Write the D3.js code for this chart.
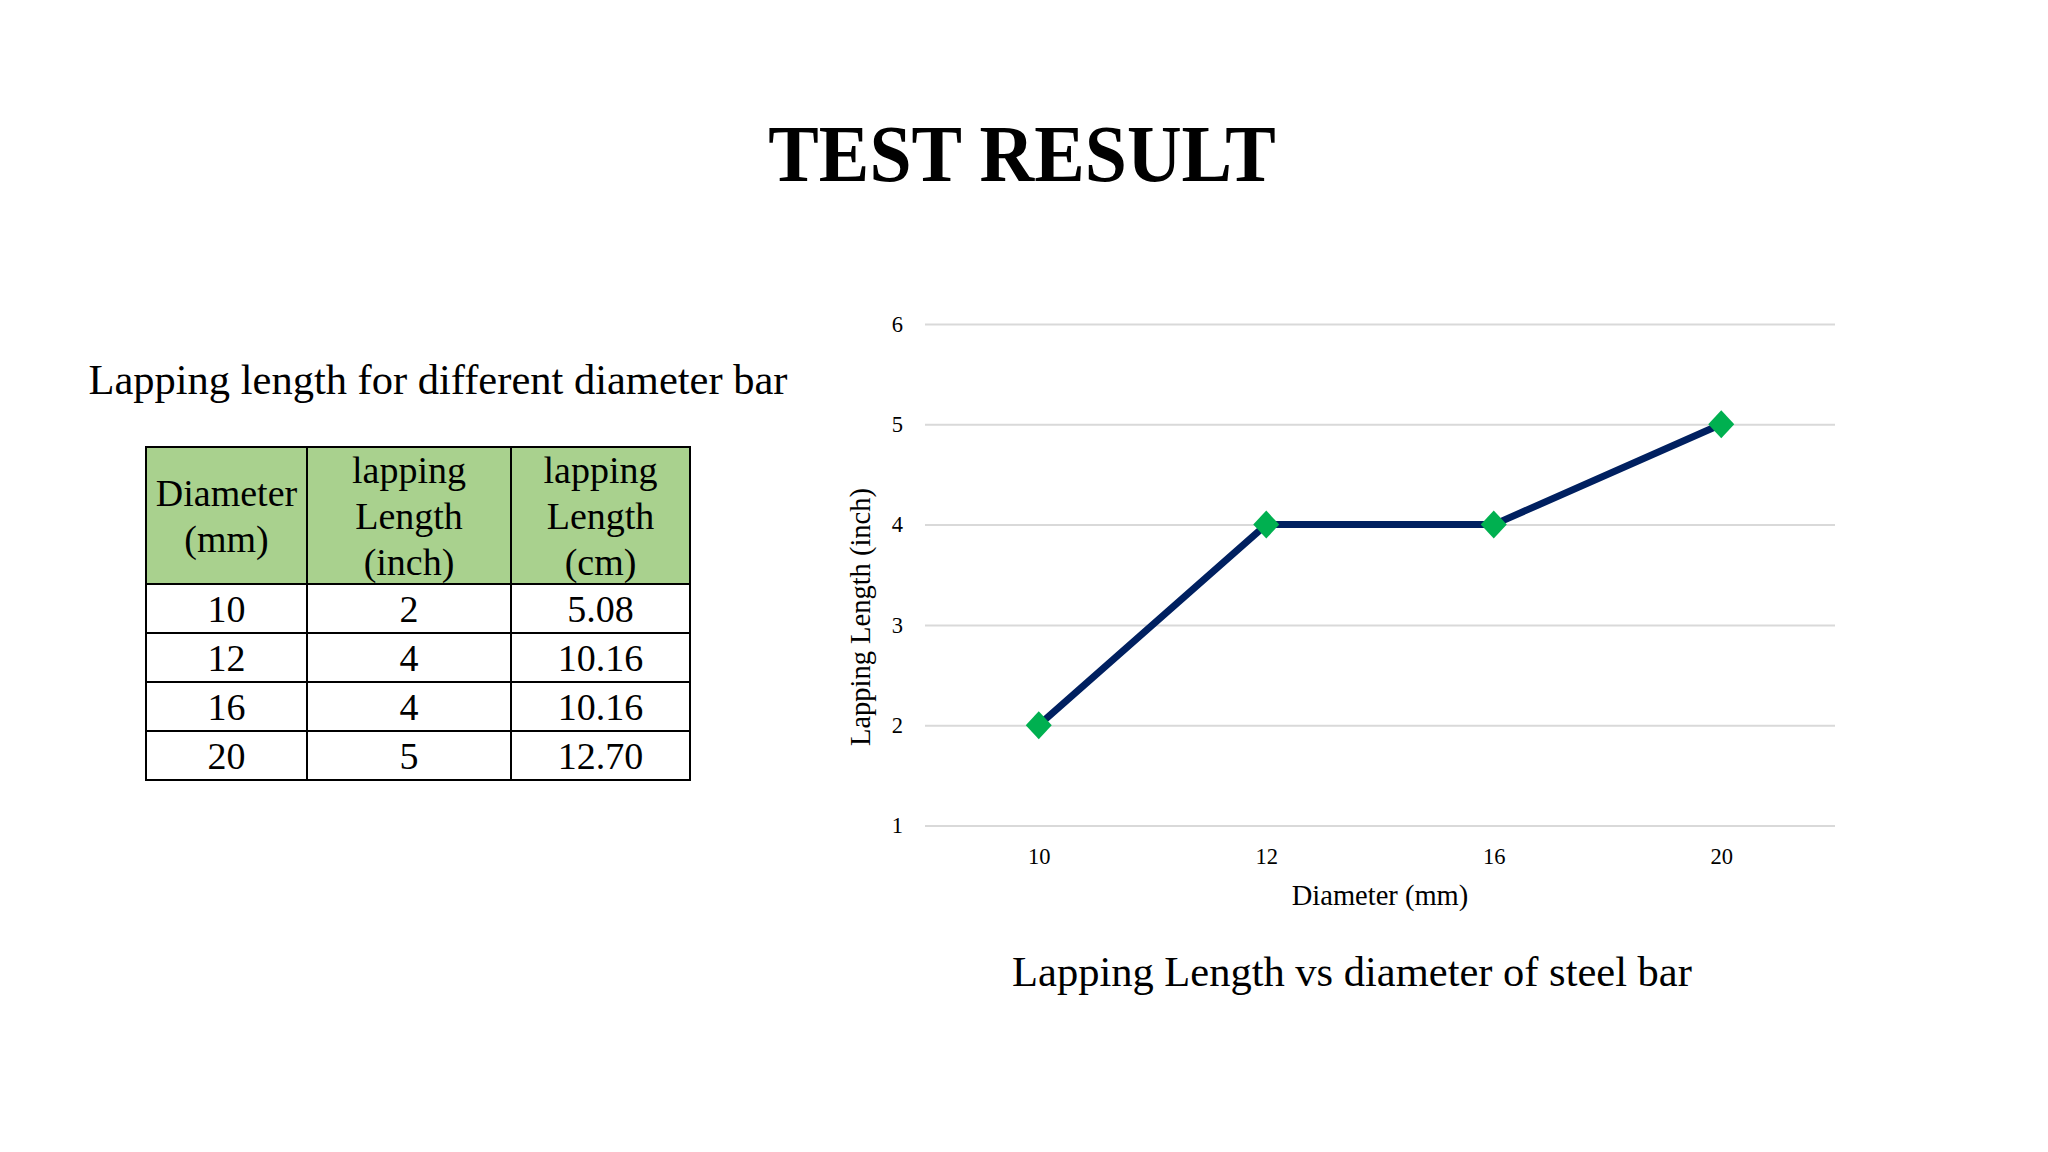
<!DOCTYPE html>
<html>
<head>
<meta charset="utf-8">
<script src="https://cdn.jsdelivr.net/npm/d3@7"></script>
<style>
  html, body { margin: 0; padding: 0; background: #ffffff; }
  svg { display: block; font-family: "Liberation Serif", "Times New Roman", serif; }
</style>
</head>
<body>
<svg id="slide"></svg>
<script>
// table + chart data
const diameters = ["10", "12", "16", "20"];
const lapInch = [2, 4, 4, 5];
const lapCm = ["5.08", "10.16", "10.16", "12.70"];
const headers = [["Diameter", "(mm)"], ["lapping", "Length", "(inch)"], ["lapping", "Length", "(cm)"]];
const yTicks = [1, 2, 3, 4, 5, 6];

const width = 2048, height = 1152;
const svg = d3.select("#slide")
              .attr("width", width)
              .attr("height", height);

// Page title
svg.append("text")
   .attr("transform", "translate(1022,181) scale(0.935,1)")
   .attr("text-anchor", "middle")
   .attr("font-weight", "bold")
   .style("font-size", "81px")
   .attr("fill", "#000")
   .text("TEST RESULT");

// Table caption
svg.append("text")
   .attr("x", 438)
   .attr("y", 394)
   .attr("text-anchor", "middle")
   .style("font-size", "42.5px")
   .attr("fill", "#000")
   .text("Lapping length for different diameter bar");

// ---- Table ----
const colEdges = [146, 307, 511, 690];
const tableTop = 447, headerBottom = 584, tableBottom = 780;
const rowY = d3.scaleBand()
               .domain(diameters)
               .range([headerBottom, tableBottom]);
const rows = diameters.map((d, i) => [d, String(lapInch[i]), lapCm[i]]);

const table = svg.append("g");

table.append("rect")
     .attr("x", colEdges[0])
     .attr("y", tableTop)
     .attr("width", colEdges[3] - colEdges[0])
     .attr("height", headerBottom - tableTop)
     .attr("fill", "#a9d18e");

// horizontal lines
[tableTop, headerBottom].concat(diameters.map(d => rowY(d) + rowY.bandwidth())).forEach(y => {
    table.append("line")
         .attr("x1", colEdges[0] - 1).attr("x2", colEdges[3] + 1)
         .attr("y1", y).attr("y2", y)
         .attr("stroke", "#000").attr("stroke-width", 2);
});
// vertical lines
colEdges.forEach(x => {
    table.append("line")
         .attr("x1", x).attr("x2", x)
         .attr("y1", tableTop).attr("y2", tableBottom)
         .attr("stroke", "#000").attr("stroke-width", 2);
});

const colCenter = i => (colEdges[i] + colEdges[i + 1]) / 2;
const headMid = (tableTop + headerBottom) / 2;
const lineH = 46;

headers.forEach((lines, c) => {
    lines.forEach((t, k) => {
        table.append("text")
             .attr("x", colCenter(c))
             .attr("y", headMid + (k - (lines.length - 1) / 2) * lineH)
             .attr("dy", "0.36em")
             .attr("text-anchor", "middle")
             .style("font-size", "38px")
             .attr("fill", "#000")
             .text(t);
    });
});

rows.forEach(r => {
    r.forEach((t, c) => {
        table.append("text")
             .attr("x", colCenter(c))
             .attr("y", rowY(r[0]) + rowY.bandwidth() / 2)
             .attr("dy", "0.36em")
             .attr("text-anchor", "middle")
             .style("font-size", "38px")
             .attr("fill", "#000")
             .text(t);
    });
});

// ---- Line chart ----
const plot = { left: 925, right: 1835, top: 324, bottom: 825.5 };

const x = d3.scalePoint()
            .domain(diameters)
            .range([plot.left, plot.right])
            .padding(0.5);

const y = d3.scaleLinear()
            .domain([1, 6])
            .range([plot.bottom, plot.top]);

// gridlines + y labels
const yAxis = svg.append("g")
   .attr("transform", `translate(${plot.left},0)`)
   .call(d3.axisLeft(y).tickValues(yTicks).tickSize(-(plot.right - plot.left)).tickPadding(22).tickFormat(d3.format("d")));
yAxis.select(".domain").remove();
yAxis.selectAll(".tick line").attr("stroke", "#d9d9d9").attr("stroke-width", 2);
yAxis.selectAll(".tick text")
     .attr("fill", "#000")
     .style("font-family", "Liberation Serif, serif")
     .style("font-size", "22.5px");

// x labels
const xAxis = svg.append("g")
   .attr("transform", `translate(0,${plot.bottom})`)
   .call(d3.axisBottom(x).tickSize(0).tickPadding(23));
xAxis.select(".domain").remove();
xAxis.selectAll(".tick text")
     .attr("fill", "#000")
     .style("font-family", "Liberation Serif, serif")
     .style("font-size", "22.5px");

// axis titles
svg.append("text")
   .attr("x", (plot.left + plot.right) / 2)
   .attr("y", 905)
   .attr("text-anchor", "middle")
   .style("font-size", "28.5px")
   .attr("fill", "#000")
   .text("Diameter (mm)");

svg.append("text")
   .attr("transform", "translate(870,617) rotate(-90)")
   .attr("text-anchor", "middle")
   .style("font-size", "28.5px")
   .attr("fill", "#000")
   .text("Lapping Length (inch)");

// the line
const pts = diameters.map((d, i) => ({ d: d, v: lapInch[i] }));
svg.append("path")
   .datum(pts)
   .attr("fill", "none")
   .attr("stroke", "#002060")
   .attr("stroke-width", 7)
   .attr("stroke-linejoin", "round")
   .attr("d", d3.line().x(p => x(p.d)).y(p => y(p.v)));

// diamond markers
svg.selectAll(".marker")
   .data(pts)
   .enter()
   .append("path")
   .attr("class", "marker")
   .attr("transform", p => `translate(${x(p.d)},${y(p.v)})`)
   .attr("d", "M0,-14L13,0L0,14L-13,0Z")
   .attr("fill", "#00b050");

// chart caption
svg.append("text")
   .attr("x", 1352)
   .attr("y", 986)
   .attr("text-anchor", "middle")
   .style("font-size", "42.5px")
   .attr("fill", "#000")
   .text("Lapping Length vs diameter of steel bar");
</script>
</body>
</html>
